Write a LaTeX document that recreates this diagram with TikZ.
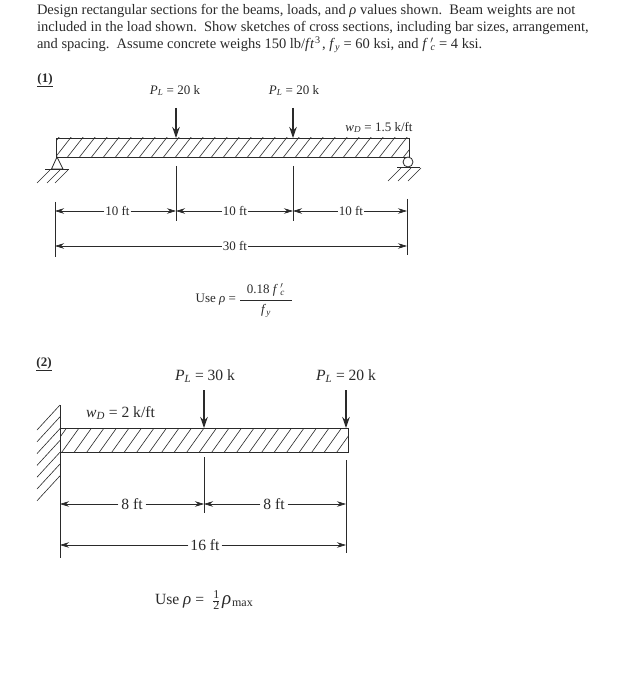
\documentclass[tikz,border=0pt]{standalone}
\usepackage{fontspec}
\setmainfont{Liberation Serif}
\usetikzlibrary{arrows.meta}
\definecolor{ink}{HTML}{2A2A2A}
\newcommand{\sz}[1]{\fontsize{#1}{#1}\selectfont}
\newcommand{\iv}[1]{\textit{#1}}
\newcommand{\sub}[1]{\textsubscript{\textit{#1}}}
\tikzset{
  x=1pt,y=-1pt,
  every node/.style={text=ink,inner sep=0pt,outer sep=0pt},
  para/.style={anchor=west,font=\sz{14.5}},
  heading/.style={font=\bfseries\sz{13}},
  smalltxt/.style={font=\sz{13}},
  bigtxt/.style={font=\sz{15.6}},
  dimlab/.style={fill=white,inner xsep=1pt,inner ysep=1pt},
  line/.style={draw=ink,line width=0.8pt},
  thin line/.style={draw=ink,line width=0.65pt},
  hatch/.style={draw=ink,line width=0.6pt},
  dimarrow/.style={thin line,-{Stealth[length=9pt,width=5.5pt]}},
  load/.style={draw=ink,line width=1.1pt,-{Stealth[length=11pt,width=7.5pt]}}
}
\begin{document}
\begin{tikzpicture}
\useasboundingbox (0,0) rectangle (641,700);
\fill[white] (0,0) rectangle (641,700);
% Statement
\node[para] (t1) at (37,10.5) {Design rectangular sections for the beams, loads, and \iv{ρ} values shown.\ \ Beam weights are not};
\node[para] (t2) at (37,27.5) {included in the load shown.\ \ Show sketches of cross sections, including bar sizes, arrangement,};
\node[para] (t3) at (37,44.5) {and spacing.\ \ Assume concrete weighs 150 lb/\iv{f\kern1pt t}\kern0.5pt\textsuperscript{3}\kern1.5pt, \iv{f}\sub{y} = 60 ksi, and \iv{f}\,$'$\kern-3.2pt\sub{c} = 4 ksi.};
% ---- Beam 1
\node[heading] (h1) at (45,80) {\underline{(1)}};
\begin{scope}
\clip (56,138) rectangle (409,157);
\foreach \i in {0,...,32} \draw[hatch] (42+\i*12,159)--(42+\i*12+18,136);
\end{scope}
\draw[line] (56,138) rectangle (409,157);
\coordinate (b1L) at (57,157);
\coordinate (b1a) at (176,138);
\coordinate (b1b) at (293,138);
% pin
\draw[line] (b1L)--(51.5,169)--(63,169)--cycle;
\draw[line] (45,169.5)--(69,169.5);
\foreach \x in {50,60,68} \draw[hatch] (\x,170)--(\x-13,183);
% roller
\draw[line,fill=white] (408,162) circle (5);
\draw[line] (397,167.5)--(420,167.5);
\foreach \x in {401,411,421} \draw[hatch] (\x,168)--(\x-13,181);
% Loads
\node[smalltxt] (pa) at (175,90.5) {\iv{P}\sub{L} = 20 k};
\node[smalltxt] (pb) at (294,90.5) {\iv{P}\sub{L} = 20 k};
\coordinate (la) at (176,108);
\coordinate (lb) at (293,108);
\draw[load] (la)--(b1a);
\draw[load] (lb)--(b1b);
\node[smalltxt] (wd1) at (379,127.5) {\iv{w}\sub{D} = 1.5 k/ft};
% Dimension ticks
\draw[thin line] (55,202)--(55,257);
\draw[thin line] (176,166)--(176,221);
\draw[thin line] (293,166)--(293,221);
\draw[thin line] (407,199)--(407,255);
\coordinate (d0) at (55,211); \coordinate (d1) at (176,211);
\coordinate (d2) at (293,211); \coordinate (d3) at (407,211);
\coordinate (e0) at (55,246); \coordinate (e3) at (407,246);
\node[smalltxt,dimlab] (l1) at (117.5,211) {10 ft};
\node[smalltxt,dimlab] (l2) at (235,211) {10 ft};
\node[smalltxt,dimlab] (l3) at (351,211) {10 ft};
\node[smalltxt,dimlab] (l4) at (235,246) {30 ft};
\draw[dimarrow] (l1)--(d0); \draw[dimarrow] (l1)--(d1);
\draw[dimarrow] (l2)--(d1); \draw[dimarrow] (l2)--(d2);
\draw[dimarrow] (l3)--(d2); \draw[dimarrow] (l3)--(d3);
\draw[dimarrow] (l4)--(e0); \draw[dimarrow] (l4)--(e3);
% Use rho 1
\node[smalltxt,anchor=east] (u1) at (236,300) {Use \iv{ρ} =};
\node[smalltxt] (u1n) at (266,290) {0.18 \iv{f}\,$'$\kern-2.8pt\sub{c}};
\node[smalltxt] (u1d) at (266,311) {\iv{f}\sub{y}};
\draw[thin line] (240,300)--(292,300);
% ---- Beam 2
\node[heading] (h2) at (44,364) {\underline{(2)}};
\begin{scope}
\clip (60,428) rectangle (348,452);
\foreach \i in {0,...,25} \draw[hatch] (48+\i*12.5,454)--(48+\i*12.5+20,426);
\end{scope}
\draw[line] (60,428) rectangle (348,452);
\coordinate (b2a) at (204,428);
\coordinate (b2b) at (346,428);
% wall
\draw[line] (60,405)--(60,502);
\foreach \i in {0,...,6} \draw[hatch] (60,405+\i*11.8)--(37,430+\i*11.8);
% loads
\node[bigtxt] (pc) at (205,376) {\iv{P}\sub{L} = 30 k};
\node[bigtxt] (pd) at (346,376) {\iv{P}\sub{L} = 20 k};
\coordinate (lc) at (204,390);
\coordinate (ld) at (346,390);
\draw[load,line width=1.4pt] (lc)--(b2a);
\draw[load,line width=1.4pt] (ld)--(b2b);
\node[bigtxt] (wd2) at (120.5,413) {\iv{w}\sub{D} = 2 k/ft};
% Dimension ticks
\draw[thin line] (60,490)--(60,558);
\draw[thin line] (204,457)--(204,513);
\draw[thin line] (346,460)--(346,553);
\coordinate (f0) at (60,504); \coordinate (f1) at (204,504); \coordinate (f2) at (346,504);
\coordinate (g0) at (60,545); \coordinate (g2) at (346,545);
\node[bigtxt,dimlab,inner xsep=3pt] (m1) at (132,504) {8 ft};
\node[bigtxt,dimlab,inner xsep=3pt] (m2) at (274,504) {8 ft};
\node[bigtxt,dimlab,inner xsep=2pt] (m3) at (205,545) {16 ft};
\draw[dimarrow] (m1)--(f0); \draw[dimarrow] (m1)--(f1);
\draw[dimarrow] (m2)--(f1); \draw[dimarrow] (m2)--(f2);
\draw[dimarrow] (m3)--(g0); \draw[dimarrow] (m3)--(g2);
% Use rho 2
\node[bigtxt,anchor=west] (u2) at (155,600) {Use \iv{\sz{17}ρ}\kern4pt=\kern8pt$\frac{\mbox{\sz{12}1}}{\mbox{\sz{12}2}}$\kern1.5pt\iv{\sz{19}ρ}\kern1pt{\sz{12}\raisebox{-2pt}{max}}};
\end{tikzpicture}
\end{document}
